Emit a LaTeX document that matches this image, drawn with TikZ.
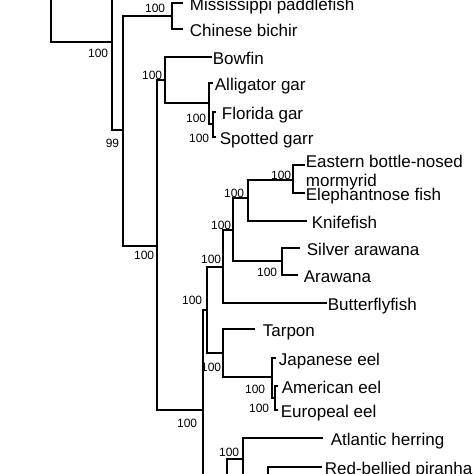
\documentclass[tikz,border=0pt]{standalone}
\usepackage{fontspec}
\setmainfont{Liberation Sans}
\usepackage{tikz}

\begin{document}
\begin{tikzpicture}[x=1bp,y=-1bp,line width=1.8bp,
	leaf/.style={anchor=west,inner sep=0pt,text height=15bp,text depth=0pt,font=\fontsize{17bp}{18.5bp}\selectfont},
	boot/.style={anchor=east,inner sep=0pt,font=\fontsize{12bp}{14bp}\selectfont}]
	\fill[white] (0,0) rectangle (474,474);
	\useasboundingbox (0,0) rectangle (474,474);
	\clip (0,0) rectangle (474,474);
	% internal nodes (x of the vertical, y where the parent joins)
	\coordinate (r0) at (51,-30);
	\coordinate (up1) at (200,-20);
	\coordinate (n1) at (112,42);
	\coordinate (n2) at (123,130);
	\coordinate (n3) at (172,16);
	\coordinate (n4) at (157,246);
	\coordinate (n5) at (165,80);
	\coordinate (n6) at (209,103);
	\coordinate (n7) at (213,124);
	\coordinate (n8) at (203,410);
	\coordinate (n9) at (207,310);
	\coordinate (n10) at (223,267);
	\coordinate (n11) at (233,230);
	\coordinate (n12) at (248,198);
	\coordinate (n13) at (293,180);
	\coordinate (n14) at (282,261);
	\coordinate (n15) at (223,353);
	\coordinate (n16) at (272,377);
	\coordinate (n17) at (275,398);
	\coordinate (n18) at (227,495);
	\coordinate (n19) at (243,459);
	\coordinate (n20) at (268,495);
	\coordinate (ebm) at (305,165);
	% leaves
	\node[leaf,inner xsep=6bp] (paddle) at (183,3) {Mississippi paddlefish};
	\node[leaf,inner xsep=6bp] (bichir) at (183,29) {Chinese bichir};
	\node[leaf] (bowfin) at (212,57) {Bowfin};
	\node[leaf,inner xsep=1bp] (algar) at (213,83) {Alligator gar};
	\node[leaf,inner xsep=5bp] (flgar) at (216,112) {Florida gar};
	\node[leaf,inner xsep=3bp] (spgar) at (216,137) {Spotted garr};
	\node[anchor=north west,inner sep=0pt,align=left,font=\fontsize{17bp}{18.5bp}\selectfont]
		(mormyrid) at ([yshift=10.5bp]ebm) {Eastern bottle-nosed\\mormyrid};
	\node[leaf] (elephant) at (305,193) {Elephantnose fish};
	\node[leaf,inner xsep=4bp] (knife) at (307,221) {Knifefish};
	\node[leaf,inner xsep=6bp] (silver) at (300,248) {Silver arawana};
	\node[leaf,inner xsep=5bp] (arawana) at (298,275) {Arawana};
	\node[leaf] (butterfly) at (327,303) {Butterflyfish};
	\node[leaf,inner xsep=7bp] (tarpon) at (255,329) {Tarpon};
	\node[leaf,inner xsep=2bp] (japeel) at (276,358) {Japanese eel};
	\node[leaf,inner xsep=3bp] (ameel) at (278,386) {American eel};
	\node[leaf,inner xsep=2bp] (eueel) at (278,410) {Europeal eel};
	\node[leaf,inner xsep=7bp] (herring) at (323,438) {Atlantic herring};
	\node[leaf,inner xsep=2bp] (piranha) at (322,467) {Red-bellied piranha};
	% branches
	\foreach \p/\c in {r0/n1, n1/up1, n1/n2, n2/n3, n2/n4, n3/paddle, n3/bichir,
		n4/n5, n4/n8, n5/bowfin, n5/n6, n6/algar, n6/n7, n7/flgar, n7/spgar,
		n8/n9, n8/n18, n9/n10, n9/n15, n10/n11, n10/butterfly, n11/n12, n11/n14,
		n12/n13, n12/knife, n13/ebm, n13/elephant, n14/silver, n14/arawana,
		n15/tarpon, n15/n16, n16/japeel, n16/n17, n17/ameel, n17/eueel,
		n18/n19, n19/herring, n19/n20, n20/piranha}
		\draw (\p) |- (\c);
	% bootstrap values
	\foreach \n/\x/\y/\v in {n1/109/53/100, n2/120/143/99, n3/166/8/100, n4/155/255/100,
		n5/163/75/100, n6/207/118/100, n7/210/138/100, n8/198/423/100, n9/203/300/100,
		n10/222/259/100, n11/232/225/100, n12/245/193/100, n13/292/175/100,
		n14/278/272/100, n15/222/367/100, n16/266/389/100, n17/270/408/100,
		n19/240/452/100}
		\node[boot] (bs-\n) at (\x,\y) {\v};
\end{tikzpicture}
\end{document}
